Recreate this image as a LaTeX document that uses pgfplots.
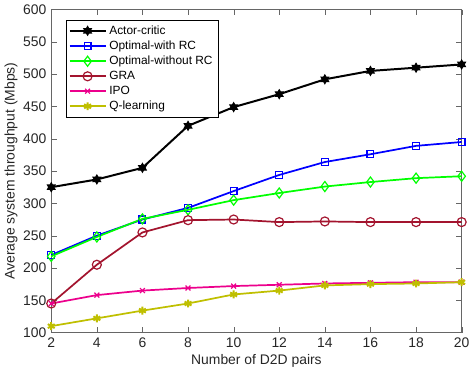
\documentclass[border=0pt]{standalone}
\usepackage{fontspec}
\setmainfont{Liberation Sans}
\usepackage{pgfplots}
\pgfplotsset{compat=1.18}
\definecolor{gracol}{rgb}{0.64,0.08,0.18}
\definecolor{qcol}{rgb}{0.75,0.75,0.0}
\definecolor{txt}{rgb}{0.15,0.15,0.15}
\pgfdeclareplotmark{hexstar}{%
  \pgfpathmoveto{\pgfpointpolar{90}{\pgfplotmarksize}}%
  \pgfpathlineto{\pgfpointpolar{120}{0.577\pgfplotmarksize}}%
  \pgfpathlineto{\pgfpointpolar{150}{\pgfplotmarksize}}%
  \pgfpathlineto{\pgfpointpolar{180}{0.577\pgfplotmarksize}}%
  \pgfpathlineto{\pgfpointpolar{210}{\pgfplotmarksize}}%
  \pgfpathlineto{\pgfpointpolar{240}{0.577\pgfplotmarksize}}%
  \pgfpathlineto{\pgfpointpolar{270}{\pgfplotmarksize}}%
  \pgfpathlineto{\pgfpointpolar{300}{0.577\pgfplotmarksize}}%
  \pgfpathlineto{\pgfpointpolar{330}{\pgfplotmarksize}}%
  \pgfpathlineto{\pgfpointpolar{0}{0.577\pgfplotmarksize}}%
  \pgfpathlineto{\pgfpointpolar{30}{\pgfplotmarksize}}%
  \pgfpathlineto{\pgfpointpolar{60}{0.577\pgfplotmarksize}}%
  \pgfpathclose
  \pgfusepathqfillstroke
}
\begin{document}
\fontsize{10.5pt}{12.5pt}\selectfont
\begin{tikzpicture}
\begin{axis}[
  scale only axis,
  width=310pt, height=244pt,
  xmin=2, xmax=20, ymin=100, ymax=600,
  xtick={2,4,...,20},
  ytick={100,150,...,600},
  tick align=inside,
  tick pos=both,
  axis line style={gray!80!black},
  tick style={gray!80!black},
  /pgf/number format/assume math mode=true,
  xlabel={Number of D2D pairs},
  ylabel={Average system throughput (Mbps)},
  xlabel style={yshift=2pt, text=txt},
  ylabel style={yshift=-3pt, text=txt},
  tick label style={font=\fontsize{10.5pt}{12.5pt}\selectfont, text=txt},
  legend style={at={(0.035,0.968)}, anchor=north west, font=\fontsize{9pt}{11pt}\selectfont,
    draw=black, row sep=-0.6pt, inner sep=2pt, text=black},
  legend cell align=left,
  legend image code/.code={%
    \draw[mark repeat=2,mark phase=2] plot coordinates {(0cm,0cm) (0.48cm,0cm) (0.96cm,0cm)};},
  every axis plot/.append style={line width=1.3pt},
]
\addplot[black, mark=hexstar, mark size=3.3pt, line width=1.5pt, mark options={line width=0.8pt}] coordinates {
 (2,325) (4,337) (6,355) (8,420) (10,449) (12,469) (14,492) (16,505) (18,510) (20,515)};
\addlegendentry{Actor-critic}
\addplot[blue, mark=square, mark size=2.6pt, mark options={line width=0.9pt}] coordinates {
 (2,220) (4,250) (6,275) (8,293) (10,319) (12,344) (14,364) (16,376) (18,389) (20,395)};
\addlegendentry{Optimal-with RC}
\addplot[green, mark=diamond, mark size=3.8pt, mark options={line width=0.9pt}] coordinates {
 (2,218) (4,248) (6,276) (8,290) (10,305) (12,316) (14,326) (16,333) (18,339) (20,342)};
\addlegendentry{Optimal-without RC}
\addplot[gracol, mark=o, mark size=3.4pt, mark options={line width=0.9pt}] coordinates {
 (2,145) (4,205) (6,255) (8,274) (10,275) (12,271) (14,272) (16,271) (18,271) (20,271)};
\addlegendentry{GRA}
\addplot[magenta, mark=x, mark size=2.6pt, mark options={line width=0.9pt}] coordinates {
 (2,145) (4,158) (6,165) (8,169) (10,172) (12,174) (14,176) (16,177) (18,178) (20,178)};
\addlegendentry{IPO}
\addplot[qcol, mark=asterisk, mark size=3pt, mark options={line width=1.5pt}] coordinates {
 (2,110) (4,122) (6,134) (8,145) (10,159) (12,165) (14,173) (16,175) (18,176) (20,178)};
\addlegendentry{Q-learning}
\end{axis}
\end{tikzpicture}
\end{document}
